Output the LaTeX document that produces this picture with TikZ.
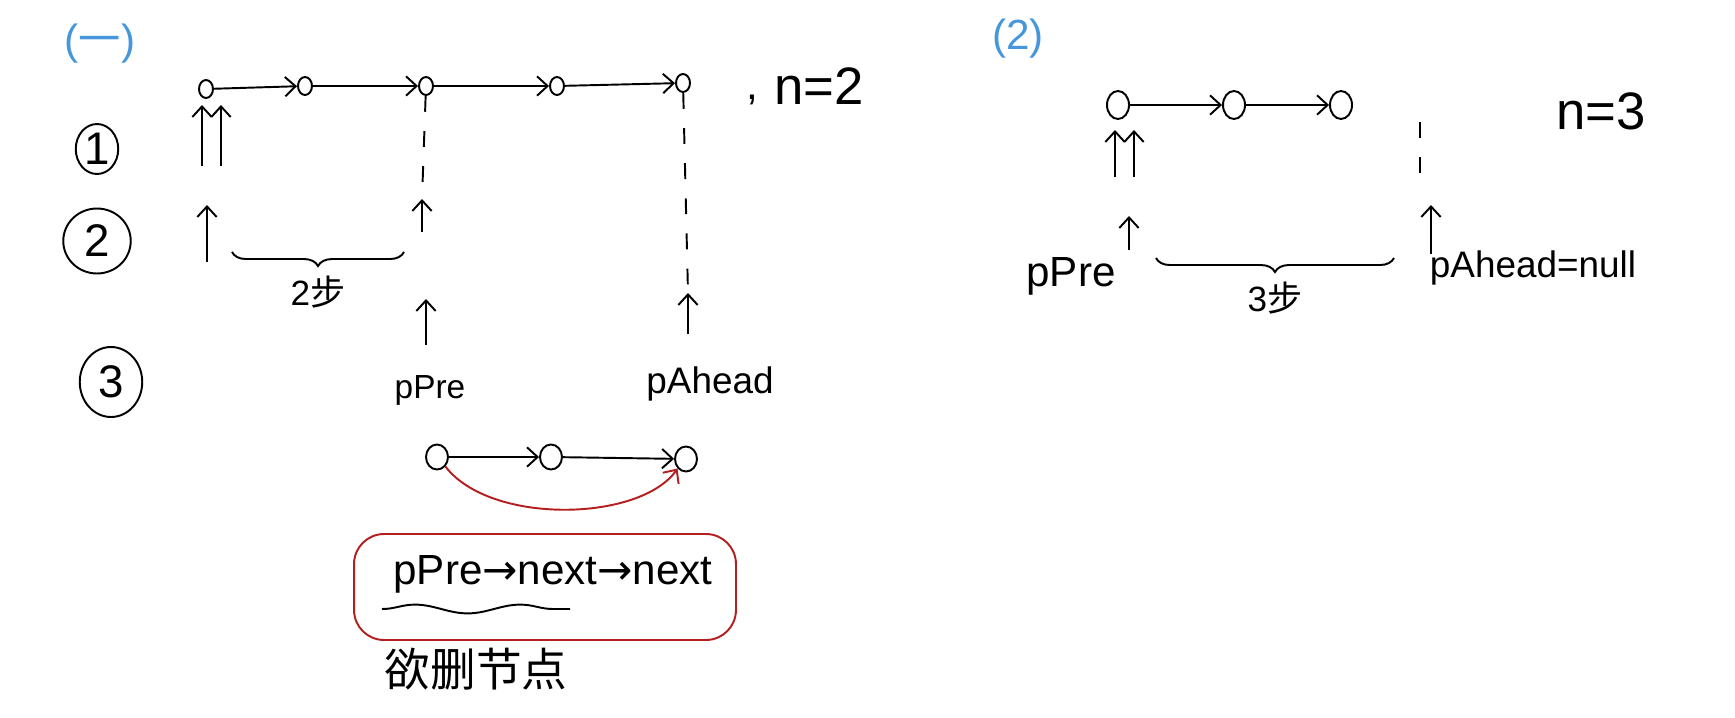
\documentclass[tikz,border=0pt]{standalone}
\usepackage{fontspec}
\setmainfont{Liberation Sans}
\newfontfamily\cjk{Noto Sans CJK SC}
\newfontfamily\arrowfont{DejaVu Sans}
\usetikzlibrary{arrows.meta,shapes.geometric,decorations.pathreplacing,decorations.pathmorphing}
\definecolor{penblue}{RGB}{70,150,220}
\definecolor{penred}{RGB}{180,30,30}

\begin{document}
\begin{tikzpicture}[
    x=0.02cm,
    y=-0.02cm,
    line width=1.1pt,
    dot/.style={
        draw,
        ellipse,
        inner sep=0pt,
        minimum width=0.28cm,
        minimum height=0.36cm
    },
    bigdot/.style={
        dot,
        minimum width=0.44cm,
        minimum height=0.50cm
    },
    link/.style={-{Straight Barb[length=6pt,width=11pt]}},
    ptr/.style={-{Straight Barb[length=6pt,width=11pt]}},
    guide/.style={dash pattern=on 9pt off 11pt},
    stepnum/.style={
        draw,
        ellipse,
        inner sep=0pt,
        font=\fontsize{26}{30}\selectfont
    },
    every node/.style={
        font=\fontsize{24}{28}\selectfont
    }
]

\useasboundingbox (0,0) rectangle (1735,717);

% ---------------- part (一) ----------------
\node[text=penblue] (title1) at (100,44) {({\cjk 一})};

\node[stepnum, minimum width=0.85cm, minimum height=1.0cm] (s1) at (97,149) {1};
\node[stepnum, minimum width=1.35cm, minimum height=1.3cm] (s2) at (97,241) {2};
\node[stepnum, minimum width=1.25cm, minimum height=1.4cm] (s3) at (111,382) {3};

% list of five nodes
\foreach \name/\x/\y in {n1/206/89, n2/305/86, n3/426/86, n4/557/86, n5/683/83}
    \node[dot] (\name) at (\x,\y) {};
\foreach \a/\b in {n1/n2, n2/n3, n3/n4, n4/n5}
    \draw[link] (\a) -- (\b);

\node (comma) at (752,100) {,};
\node[font=\fontsize{30}{34}\selectfont] (n2eq) at (819,86) {n=2};

% step 1: both pointers on the head
\coordinate (a1s) at (202,166);
\coordinate (a1e) at (202,105);
\coordinate (b1s) at (221,166);
\coordinate (b1e) at (221,105);
\draw[ptr] (a1s) -- (a1e);
\draw[ptr] (b1s) -- (b1e);

% step 2: one pointer moved two steps ahead
\coordinate (a2s) at (207,262);
\coordinate (a2e) at (207,205);
\coordinate (b2s) at (422,232);
\coordinate (b2e) at (422,199);
\draw[ptr] (a2s) -- (a2e);
\draw[ptr] (b2s) -- (b2e);
\draw[guide] (n3) -- (b2e);

\draw[decorate, decoration={brace, mirror, amplitude=8pt}]
    (232,252) -- (404,252) node[midway, below=10pt, font=\fontsize{20}{24}\selectfont] (gap1) {2{\cjk 步}};

% step 3: both pointers moved together
\coordinate (a3s) at (426,345);
\coordinate (a3e) at (426,299);
\coordinate (b3s) at (688,334);
\coordinate (b3e) at (688,293);
\draw[ptr] (a3s) -- (a3e);
\draw[ptr] (b3s) -- (b3e);
\draw[guide] (n5) -- (b3e);

\node[font=\fontsize{19}{22}\selectfont] (pre1) at (430,390) {pPre};
\node[font=\fontsize{21}{24}\selectfont] (ahead1) at (710,384) {pAhead};

% the nodes round the one to remove
\foreach \name/\x/\y in {c1/437/457, c2/551/457, c3/686/459}
    \node[bigdot] (\name) at (\x,\y) {};
\draw[link] (c1) -- (c2);
\draw[link] (c2) -- (c3);
\draw[penred, link] (c1.south east)
    .. controls (490,525) and (640,522) .. (c3.south west);

% the expression in a red frame
\node[draw=penred, rounded corners=0.6cm,
      minimum width=7.64cm, minimum height=2.12cm] (frame) at (545,587) {};
\node (expr) at (553,574) {pPre{\arrowfont →}next{\arrowfont →}next};
\draw[decorate, decoration={snake, segment length=60pt, amplitude=2.5pt}]
    (382,609) -- (570,609);
\node[font=\fontsize{26}{30}\selectfont] (note) at (476,669) {\cjk 欲删节点};

% ---------------- part (2) ----------------
\node[text=penblue] (title2) at (1018,39) {(2)};

\foreach \name/\x/\y in {r1/1118/105, r2/1234/105, r3/1341/105}
    \node[bigdot, minimum height=0.56cm] (\name) at (\x,\y) {};
\draw[link] (r1) -- (r2);
\draw[link] (r2) -- (r3);

\node[font=\fontsize{30}{34}\selectfont] (n3eq) at (1601,111) {n=3};

\coordinate (a4s) at (1115,177);
\coordinate (a4e) at (1115,130);
\coordinate (b4s) at (1134,177);
\coordinate (b4e) at (1134,130);
\draw[ptr] (a4s) -- (a4e);
\draw[ptr] (b4s) -- (b4e);

\coordinate (a5s) at (1129,250);
\coordinate (a5e) at (1129,216);
\coordinate (b5s) at (1431,254);
\coordinate (b5e) at (1431,205);
\coordinate (tail) at (1420,122);
\draw[ptr] (a5s) -- (a5e);
\draw[ptr] (b5s) -- (b5e);
\draw[guide] (tail) -- (1420,190);

\node[font=\fontsize{24}{28}\selectfont] (pre2) at (1071,276) {pPre};
\draw[decorate, decoration={brace, mirror, amplitude=8pt}]
    (1156,258) -- (1394,258) node[midway, below=10pt, font=\fontsize{20}{24}\selectfont] (gap2) {3{\cjk 步}};
\node[font=\fontsize{21}{24}\selectfont] (ahead2) at (1533,268) {pAhead=null};

\end{tikzpicture}
\end{document}
